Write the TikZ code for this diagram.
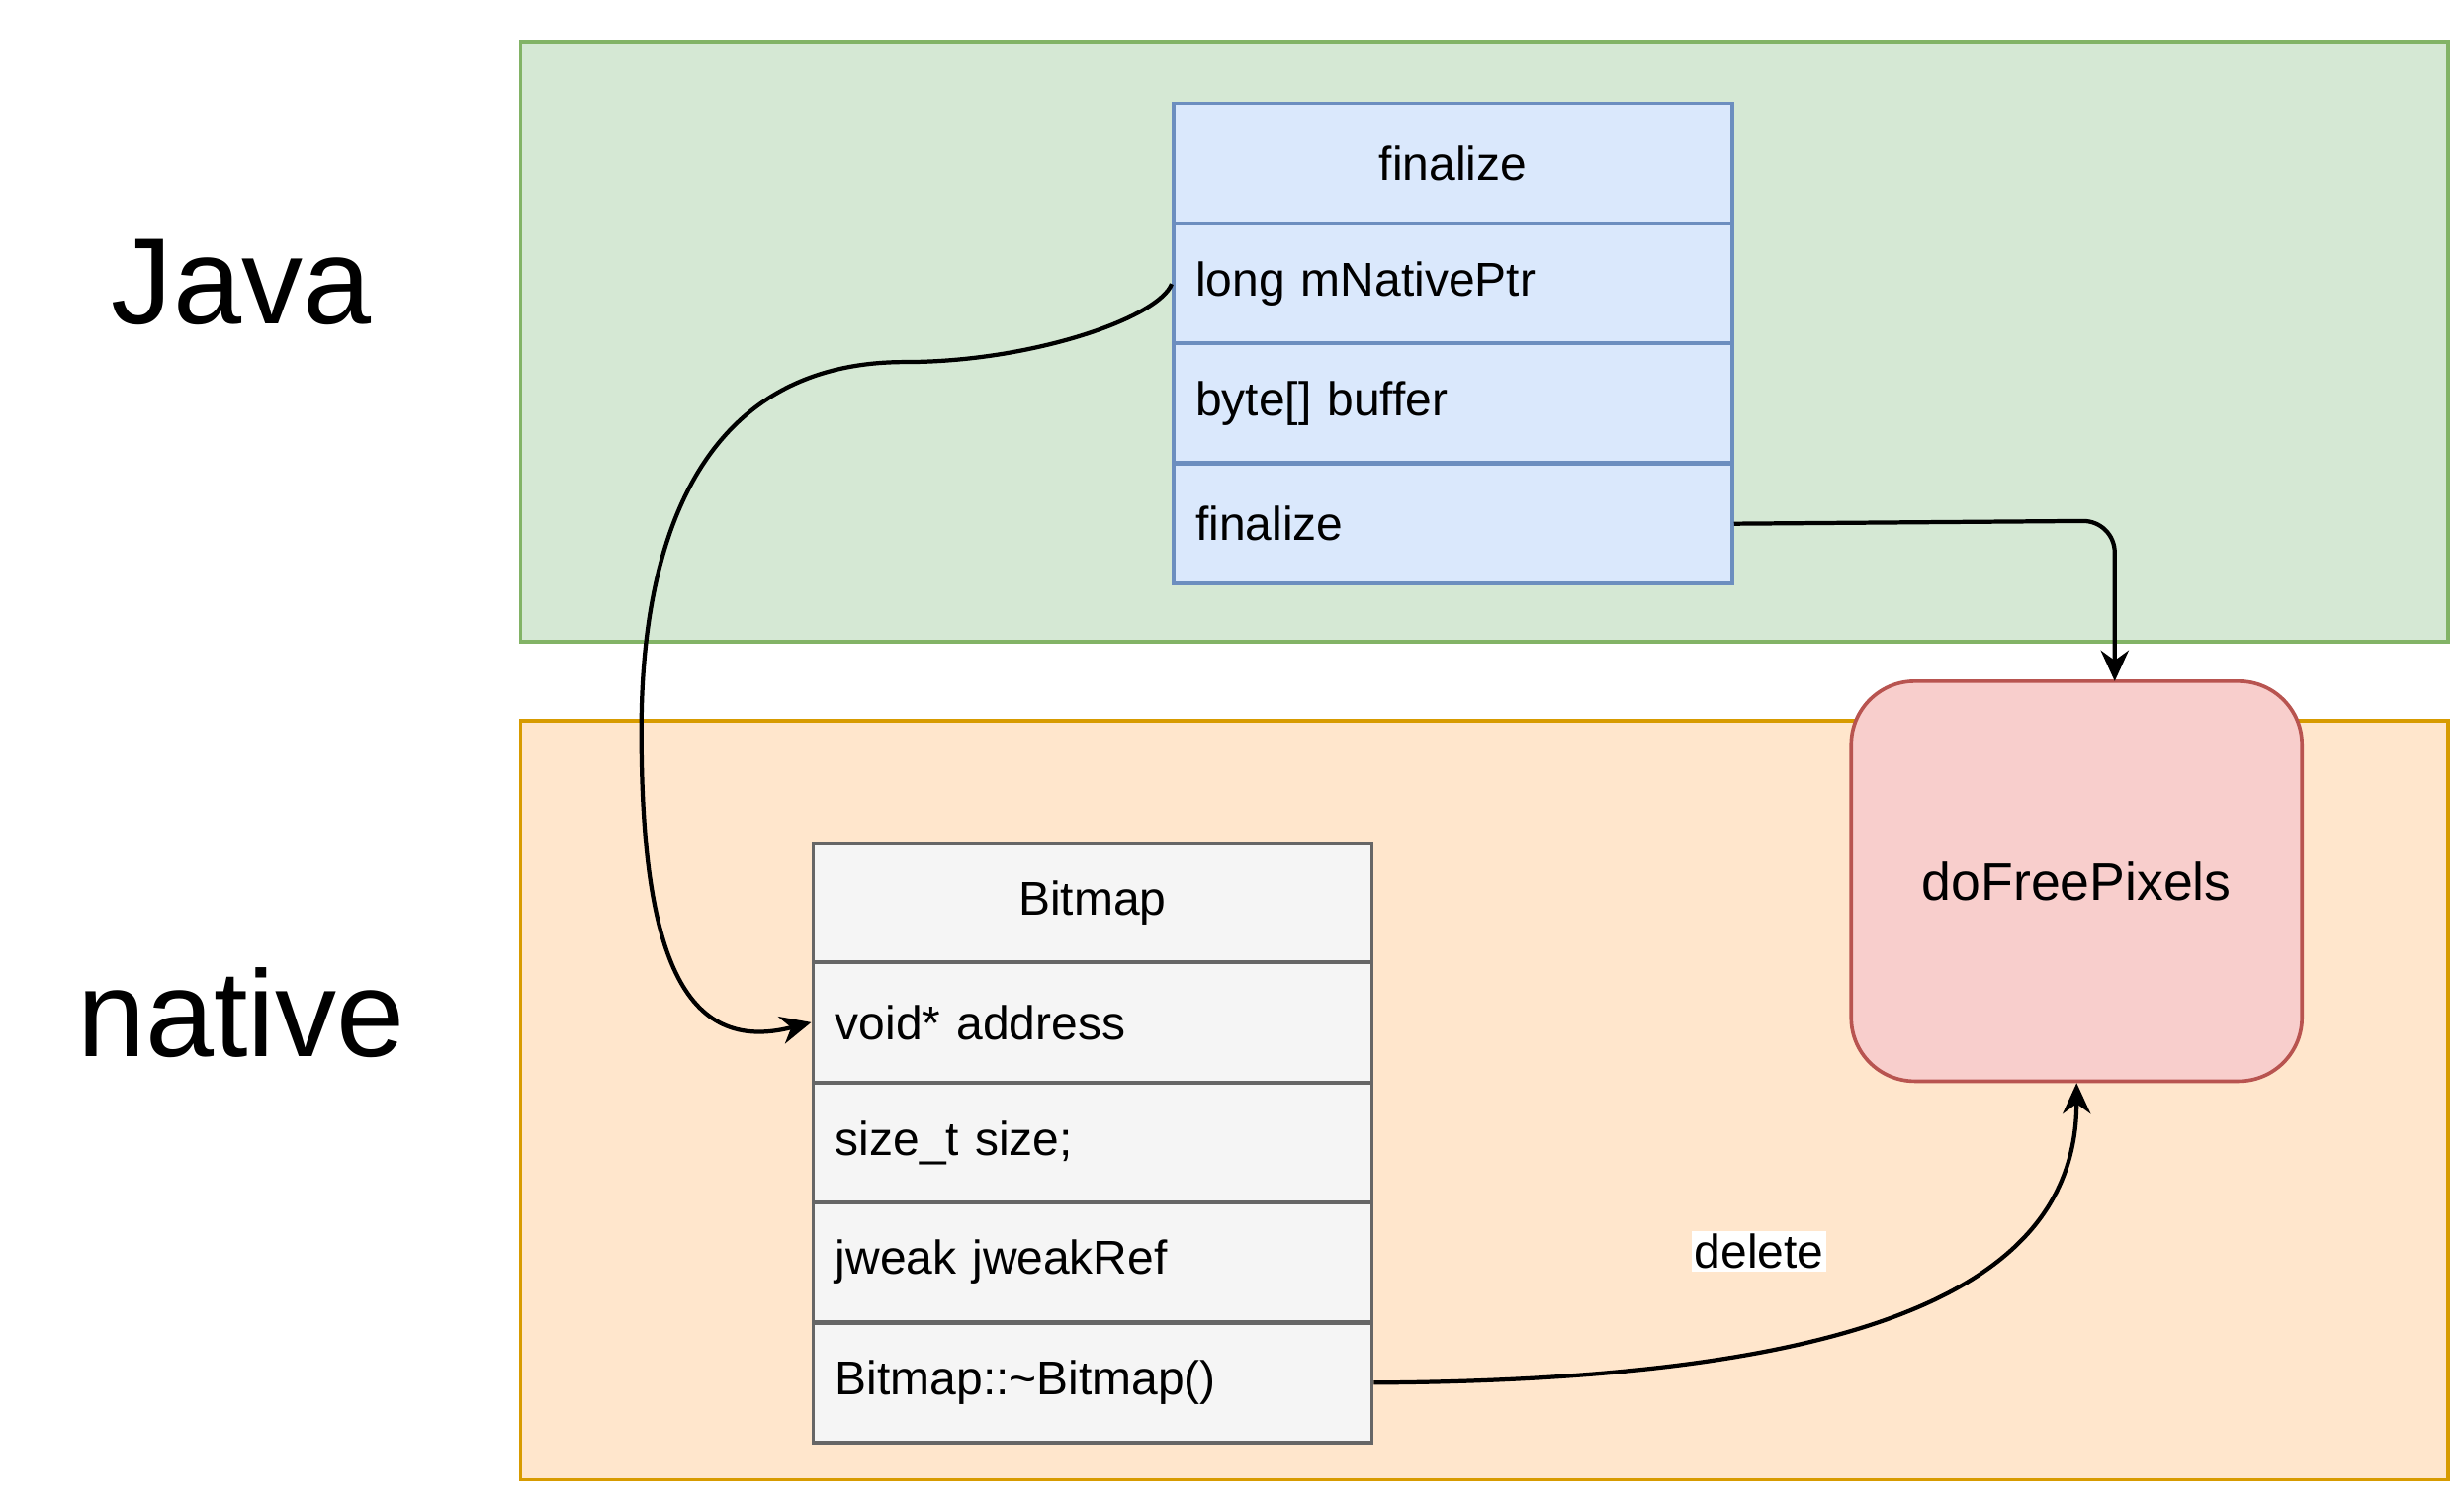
\documentclass[tikz,border=0pt]{standalone}
\usepackage{fontspec}
\setmainfont{Liberation Sans}
\usetikzlibrary{arrows.meta}
\definecolor{javafill}{HTML}{D5E8D4}
\definecolor{javadraw}{HTML}{82B366}
\definecolor{natfill}{HTML}{FFE6CC}
\definecolor{natdraw}{HTML}{D79B00}
\definecolor{clsfill}{HTML}{DAE8FC}
\definecolor{clsdraw}{HTML}{6C8EBF}
\definecolor{bmpfill}{HTML}{F5F5F5}
\definecolor{bmpdraw}{HTML}{666666}
\definecolor{freefill}{HTML}{F8CECC}
\definecolor{freedraw}{HTML}{B85450}
\begin{document}
\begin{tikzpicture}[x=0.02cm,y=-0.02cm,>={Stealth[length=11pt,width=10pt]},line width=1.5pt,
  font=\fontsize{17}{20}\selectfont,
  row/.style={draw,line width=1.3pt,minimum width=7.04cm,minimum height=1.51cm,inner xsep=0.28cm,anchor=north west,text width=6.48cm},
  head/.style={row,align=center},
  item/.style={row,align=left},
  jrow/.style={fill=clsfill,draw=clsdraw},
  brow/.style={fill=bmpfill,draw=bmpdraw},
  big label/.style={font=\fontsize{44}{48}\selectfont}]
    \useasboundingbox (0,0) rectangle (1552,949);
    % layers
    \draw[fill=javafill,draw=javadraw,line width=1.3pt] (328,26) rectangle (1542,404);
    \draw[fill=natfill,draw=natdraw,line width=1.3pt] (328,454) rectangle (1542,932);
    \node[big label] (java) at (152,178) {Java};
    \node[big label] (native) at (152,638) {native};

    % java class
    \node[head,jrow] (jhead) at (738,64) {finalize};
    \node[item,jrow] (jptr) at (738,140) {long mNativePtr};
    \node[item,jrow] (jbuf) at (738,215) {byte[] buffer};
    \node[item,jrow] (jfin) at (738,291) {finalize};

    % native bitmap
    \node[head,brow] (bhead) at (511,530) {Bitmap};
    \node[item,brow] (baddr) at (511,605) {void* address};
    \node[item,brow] (bsize) at (511,681) {size\_t size;};
    \node[item,brow] (bref) at (511,756) {jweak jweakRef};
    \node[item,brow] (bdel) at (511,832) {Bitmap::\textasciitilde Bitmap()};

    \node[draw=freedraw,fill=freefill,line width=1.3pt,rounded corners=0.8cm,minimum width=5.68cm,minimum height=5.04cm,font=\fontsize{19}{22}\selectfont] (free) at (1308,555) {doFreePixels};

    % connectors
    \draw[->] (jptr.west) .. controls (730,200) and (650,228) .. (570,228)
        .. controls (430,228) and (404,360) .. (404,460)
        .. controls (404,600) and (430,665) .. (baddr.west);
    \draw[->,rounded corners=0.4cm] (jfin.east) -- (1332,328) -- (1332,429);
    \draw[->] (bdel.east) .. controls (1200,869) and (1308,800) .. (free.south);
    \node[fill=white,inner sep=1pt] (dellab) at (1108,788) {delete};
\end{tikzpicture}
\end{document}
